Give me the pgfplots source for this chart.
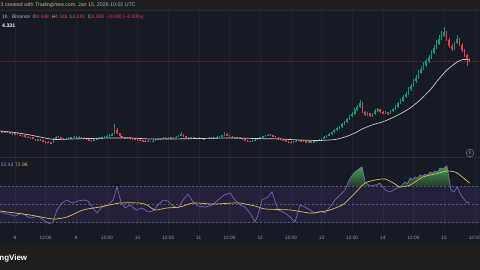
\documentclass[border=0pt]{standalone}
\usepackage{pgfplots}
\pgfplotsset{compat=1.18}
\usepackage{pgfplotstable}
\usepackage{fontspec}
\setmainfont{Liberation Sans}
\definecolor{bgc}{HTML}{161A25}
\definecolor{barc}{HTML}{1E1E1E}
\definecolor{barline}{HTML}{2C2C2C}
\definecolor{gridc}{HTML}{1F2331}
\definecolor{sepc}{HTML}{2A2E39}
\definecolor{upc}{HTML}{089981}
\definecolor{dnc}{HTML}{F23645}
\definecolor{smac}{HTML}{C9CCD6}
\definecolor{rsic}{HTML}{7E6BCB}
\definecolor{mac}{HTML}{D8BE58}
\definecolor{bandc}{HTML}{7E57C2}
\definecolor{dashc}{HTML}{5A5A70}
\definecolor{txtc}{HTML}{B2B5BE}
\definecolor{tickc}{HTML}{9598A1}
\definecolor{obtop}{HTML}{44A047}
\definecolor{obbot}{HTML}{243A2C}

\pgfplotstableread{
t o h l c
-5 68.5 69 67.5 68
-4 68 69.2 67.6 68.5
-3 68.5 69 67 67.5
-2 67.5 68 66.3 67
-1 67 67.5 65.4 66
0 66 67.2 65.5 66.5
1 66.5 67 64.5 65
2 65 65.5 63.5 64
3 64 65 63.6 64.5
4 64.5 65 62.4 63
5 63 63.5 61.5 62
6 62 63 61.6 62.5
7 62.5 63 60.5 61
8 61 61.4 59.4 60
9 60 61 59.6 60.5
10 60.5 61 59 59.5
11 59.5 60 58 58.5
12 58.5 59 57.4 58
13 58 58.6 57 57.5
14 57.5 58 56.2 57
15 57 62.2 56.8 61.5
16 61.5 63.8 61 63
17 63 63.6 62 62.5
18 62.5 63 61.5 62
19 62 62.4 60 60.5
20 60.5 61.6 60 61
21 61 62.5 60.6 62
22 62 63.2 61.6 62.5
23 62.5 63.6 62 63
24 63 63.5 62 62.5
25 62.5 63.6 62.1 63
26 63 63.4 61.8 62.2
27 62.2 62.6 60.8 61.2
28 61.2 61.6 60 60.5
29 60.5 61 59 59.5
30 59.5 60 58.4 59
31 59 61 58.6 60.5
32 60.5 62 60.1 61.5
33 61.5 62.6 61.2 62
34 62 63 61.6 62.5
35 62.5 64 62.2 63.5
36 63.5 64.8 63 64
37 64 65.5 63.5 64.5
38 64.5 67 64 66
39 66 76 65.5 69.5
40 69.5 71.5 66 66.5
41 66.5 67 62.8 63.5
42 63.5 64 62 62.5
43 62.5 63 61.4 62
44 62 63 61.5 62.5
45 62.5 63 61 61.5
46 61.5 62 60.4 61
47 61 61.5 60 60.5
48 60.5 61 59.5 60
49 60 60.5 59 59.5
50 59.5 60 58.4 59
51 59 59.5 58 58.5
52 58.5 59.5 58 59
53 59 59.4 57.6 58.2
54 58.2 59.5 57.8 59
55 59 60.5 58.6 60
56 60 61.5 59.6 61
57 61 62 60.6 61.5
58 61.5 62.5 61 62
59 62 62.5 61 61.6
60 61.6 62.8 61.2 62.2
61 62.2 62.6 61.5 62
62 62 63.2 61.6 62.6
63 62.6 63.6 62.2 63
64 63 64.6 62.6 64
65 64 67.5 63.6 65.5
66 65.5 66 63 63.5
67 63.5 64 62 62.5
68 62.5 63 61.5 62
69 62 62.9 61.6 62.4
70 62.4 62.8 61.3 61.8
71 61.8 62.2 61 61.5
72 61.5 62.5 61.1 62
73 62 62.4 61.1 61.6
74 61.6 62 60.7 61.2
75 61.2 62.2 60.8 61.8
76 61.8 62.7 61.4 62.2
77 62.2 62.6 61.5 62
78 62 63 61.6 62.6
79 62.6 63.5 62.2 63
80 63 64.2 62.6 63.6
81 63.6 65 63.2 64.5
82 64.5 68 64 66
83 66 66.5 64 64.5
84 64.5 65 62.7 63.2
85 63.2 63.6 62 62.6
86 62.6 63 61.7 62.2
87 62.2 63 61.8 62.5
88 62.5 62.9 61.3 61.8
89 61.8 62.2 60.3 60.8
90 60.8 61.2 59.5 60
91 60 60.4 58.4 59
92 59 59.4 57.8 58.4
93 58.4 59.5 58 59
94 59 60.7 58.6 60.2
95 60.2 62 59.8 61.5
96 61.5 63.3 61.1 62.8
97 62.8 64.3 62.4 63.8
98 63.8 65.2 63.3 64.6
99 64.6 66 64.1 65.2
100 65.2 65.8 64 64.6
101 64.6 65 63 63.5
102 63.5 64 61.8 62.3
103 62.3 62.8 60.7 61.2
104 61.2 61.6 59.6 60.2
105 60.2 60.7 59 59.5
106 59.5 60 58.2 58.8
107 58.8 59.2 57.4 58
108 58 58.5 56.8 57.4
109 57.4 59 57 58.5
110 58.5 59.8 58 59.2
111 59.2 60.3 58.8 59.8
112 59.8 60.3 58.5 59
113 59 59.5 57.8 58.3
114 58.3 58.8 57.5 58
115 58 59.1 57.6 58.6
116 58.6 59 57.6 58.1
117 58.1 58.9 57.7 58.4
118 58.4 59.7 58 59.2
119 59.2 60.8 58.8 60.2
120 60.2 62 59.8 61.5
121 61.5 63.5 61 62.8
122 62.8 65.2 62.3 64.5
123 64.5 66.6 64 65.8
124 65.8 68.3 65.2 67.5
125 67.5 70.5 67 69.5
126 69.5 72.5 69 71.5
127 71.5 74 70.6 73
128 73 76.8 72.4 75.5
129 75.5 79.3 74.8 78
130 78 82 77.3 80.5
131 80.5 85 79.8 83.5
132 83.5 87.5 82.8 86
133 86 91.5 85.2 89.5
134 89.5 95 88.6 93
135 93 100 92.2 96.5
136 96.5 97.5 87 88
137 88 89 83.5 84.5
138 84.5 87.5 83.6 86.5
139 86.5 87.2 83 84
140 84 86.5 83.2 85.5
141 85.5 90.5 85 89
142 89 92 88.2 90.5
143 90.5 91.2 87.2 88
144 88 88.6 85.6 86.5
145 86.5 88.5 85.8 87.5
146 87.5 88 85.2 86
147 86 89.5 85.5 88.5
148 88.5 91.8 87.8 90.5
149 90.5 94.5 89.8 93
150 93 98 92.3 96.5
151 96.5 100.8 95.6 99
152 99 104.6 98.2 103
153 103 108 102 106
154 106 112.5 105 110.5
155 110.5 116 109.4 114
156 114 120.5 113 118.5
157 118.5 124.5 117.2 122
158 122 129.5 121 127
159 127 133.5 126 131
160 131 137.5 129.5 134.5
161 134.5 141 133.2 138.5
162 138.5 145 137 142.5
163 142.5 150 141.3 147
164 147 155 145.5 152
165 152 159.5 150.8 156
166 156 165 154.5 161
167 161 168.5 159.5 164
168 164 173 162.5 167.5
169 167.5 169 158.5 160
170 160 161.5 152 154
171 154 155.5 149 151
172 151 158 150 156.5
173 156.5 165 155.5 161
174 161 162 153.5 155
175 155 156.5 148 149.5
176 149.5 150.5 142.8 145
177 145 146 133.5 140.5
178 140.5 142 137.5 139
}\candles

\begin{document}
\begin{tikzpicture}
\useasboundingbox (0bp,0bp) rectangle (480bp,270bp);
\clip (0bp,0bp) rectangle (480bp,270bp);
\fill[bgc] (0bp,0bp) rectangle (480bp,270bp);
\fill[barc] (0bp,259.5bp) rectangle (480bp,270bp);
\draw[barline, line width=0.6bp] (0bp,259.5bp) -- (480bp,259.5bp);
\fill[barc] (0bp,0bp) rectangle (480bp,25.5bp);
\draw[sepc, line width=0.7bp] (0bp,112.5bp) -- (480bp,112.5bp);

% ---------- price panel ----------
\begin{axis}[at={(0bp,113bp)}, anchor=south west, scale only axis,
  width=480bp, height=146bp,
  xmin=-5.873, xmax=182.05, ymin=43, ymax=189,
  axis line style={draw=none}, tick style={draw=none},
  xtick={0,12,...,180}, xticklabels={}, ytick=\empty,
  xmajorgrids, grid style={gridc, line width=0.5bp}]
% last price line
\addplot[dnc, opacity=0.45, line width=0.5bp, dash pattern=on 1bp off 1bp, forget plot]
  coordinates {(-5.873,139) (182.05,139)};
% wicks
\addplot[draw=none, mark=none, forget plot,
  restrict expr to domain={\thisrow{c}-\thisrow{o}}{0:1000},
  error bars/.cd, y dir=both, y explicit, error mark=none,
  error bar style={draw=upc, line width=0.45bp}]
  table[x=t, y expr={(\thisrow{h}+\thisrow{l})/2}, y error expr={(\thisrow{h}-\thisrow{l})/2}] {\candles};
\addplot[draw=none, mark=none, forget plot,
  restrict expr to domain={\thisrow{o}-\thisrow{c}}{0.001:1000},
  error bars/.cd, y dir=both, y explicit, error mark=none,
  error bar style={draw=dnc, line width=0.45bp}]
  table[x=t, y expr={(\thisrow{h}+\thisrow{l})/2}, y error expr={(\thisrow{h}-\thisrow{l})/2}] {\candles};
% bodies
\addplot[draw=none, mark=none, forget plot,
  restrict expr to domain={\thisrow{c}-\thisrow{o}}{0:1000},
  error bars/.cd, y dir=both, y explicit, error mark=none,
  error bar style={draw=upc, line width=1.6bp}]
  table[x=t, y expr={(\thisrow{o}+\thisrow{c})/2}, y error expr={max(abs(\thisrow{c}-\thisrow{o})/2,0.4)}] {\candles};
\addplot[draw=none, mark=none, forget plot,
  restrict expr to domain={\thisrow{o}-\thisrow{c}}{0.001:1000},
  error bars/.cd, y dir=both, y explicit, error mark=none,
  error bar style={draw=dnc, line width=1.6bp}]
  table[x=t, y expr={(\thisrow{o}+\thisrow{c})/2}, y error expr={max(abs(\thisrow{c}-\thisrow{o})/2,0.4)}] {\candles};
% moving average
\addplot[smac, line width=0.7bp, smooth, tension=0.4, mark=none] coordinates {
(-5.9,69) (0,67.5) (5.9,65) (11.7,62) (15.7,60.5) (21.5,61) (29.4,61.5) (37.2,62)
(45,62) (52.9,61) (60.7,61) (72.4,61.5) (84.2,62) (94,61.5) (103.8,61) (111.6,60)
(119.4,59.5) (125.3,60.5) (129.2,63) (133.1,67) (135.9,71) (139.8,75) (144.9,79)
(150.7,86) (154.7,92) (158.6,100) (162.5,110) (165.6,120) (169.1,130) (173.1,138)
(175.4,140.5) (178.1,140)};
\end{axis}

% ---------- RSI panel ----------
\begin{axis}[at={(0bp,39bp)}, anchor=south west, scale only axis,
  width=480bp, height=73bp,
  xmin=-5.873, xmax=182.05, ymin=20.9, ymax=100.5,
  axis line style={draw=none}, tick style={draw=none},
  xtick={0,12,...,180},
  xticklabels={8,12:00,9,12:00,10,12:00,11,12:00,12,12:00,13,12:00,14,12:00,15,12:00},
  xticklabel style={font=\fontsize{4.8}{5.5}\selectfont, text=tickc, anchor=center, yshift=-7bp},
  ytick=\empty,
  xmajorgrids, grid style={gridc, line width=0.5bp}]
\addplot[draw=none, fill=bandc, fill opacity=0.13, forget plot]
  coordinates {(-5.873,30) (182.05,30) (182.05,70) (-5.873,70)} -- cycle;
% overbought fill (RSI above 70)
\addplot[draw=none, top color=obtop, bottom color=obbot, forget plot] coordinates {
(129.87,70) (131.2,78.7) (133.1,85.2) (135.1,89.6) (135.9,90.7) (137.1,74.3) (139,70)
(141,71) (142.9,73.2) (143.74,70)} -- cycle;
\addplot[draw=none, top color=obtop, bottom color=obbot, forget plot] coordinates {
(151.11,70) (152.7,74.3) (153.7,72.5) (154.7,78.7) (155.6,77) (156.6,79.8) (157.6,78.5)
(158.6,81.9) (159.5,80.5) (160.5,82.9) (161.5,81.8) (162.5,85.2) (163.4,84) (164.4,86.3)
(165.4,85.5) (166.4,89.6) (167.5,88.5) (169.1,92.1) (170.43,70)} -- cycle;
\addplot[dashc, line width=0.5bp, dash pattern=on 2bp off 2bp, forget plot]
  coordinates {(-5.873,70) (182.05,70)};
\addplot[dashc, line width=0.5bp, dash pattern=on 2bp off 2bp, forget plot]
  coordinates {(-5.873,50) (182.05,50)};
\addplot[dashc, line width=0.5bp, dash pattern=on 2bp off 2bp, forget plot]
  coordinates {(-5.873,30) (182.05,30)};
\addplot[rsic, line width=0.6bp, mark=none] coordinates {
(-5.9,41.6) (-2.7,39.4) (0,37.2) (2.7,40.5) (5.9,35.1) (9,37.2) (11.7,31.8) (13.7,28.5)
(14.9,30.7) (16.4,43.8) (18.4,51.4) (20.4,54.7) (22.3,51.4) (24.7,53.6) (27,54.7)
(28.6,53.6) (30.5,46) (32.1,40.5) (34.1,47.1) (36.4,49.2) (38.4,54.7) (39.9,68.9)
(41.5,52.5) (43.1,46) (45,49.2) (47.4,43.8) (49.7,46) (52.1,41.6) (54,42.7) (56,49.2)
(58,54.7) (59.9,53.6) (61.9,48.1) (63.8,46) (65.8,54.7) (67.7,61.2) (69.7,52.5)
(71.7,48.1) (74.4,47) (77.1,49.2) (79.5,54.7) (81.8,60.1) (84.2,62.3) (86.1,54.7)
(88.1,49.2) (90,47.1) (92,40.5) (94,30.7) (95.1,38.3) (96.7,54.7) (99.1,58)
(100.6,63.4) (103,43.8) (105.7,40.5) (107.7,36.2) (109.6,30.7) (111.6,49.2)
(113.5,47.1) (115.5,43.8) (117.5,40.5) (119.4,42.7) (121.4,40.5) (123.3,47.1)
(125.3,54.7) (127.3,60.1) (129.2,65.6) (131.2,78.7) (133.1,85.2) (135.1,89.6)
(135.9,90.7) (137.1,74.3) (139,70) (141,71) (142.9,73.2) (144.9,65.6) (146.8,63.4)
(148.8,66.7) (150.7,68.9) (152.7,74.3) (153.7,72.5) (154.7,78.7) (155.6,77)
(156.6,79.8) (157.6,78.5) (158.6,81.9) (159.5,80.5) (160.5,82.9) (161.5,81.8)
(162.5,85.2) (163.4,84) (164.4,86.3) (165.4,85.5) (166.4,89.6) (167.5,88.5)
(169.1,92.1) (170.7,65.6) (171.9,63.4) (173.1,68.9) (174.2,62.3) (175.4,56.9)
(177,51.4) (178,52.4)};
\addplot[mac, line width=0.7bp, mark=none, smooth, tension=0.4] coordinates {
(-5.9,42.7) (5.9,38.3) (14.9,34) (20.4,36.2) (26.6,43.8) (33.3,47.1) (41.1,51.4)
(48.9,51.4) (51.7,49.2) (54.8,43.8) (59.5,46) (64.6,47.1) (69.7,51.4) (77.5,50.3)
(85.4,51.4) (88.1,51.4) (94,48.1) (97.9,44.9) (107.7,43.8) (115.5,40.5) (119.4,41.6)
(123.3,43.8) (127.3,48.1) (129.2,51.4) (133.1,62.3) (137,73.2) (141,76.5) (144.9,77.6)
(148.8,72.1) (150.7,68.9) (154.7,71) (159.7,79.8) (164.4,83) (169.1,86.3) (172.3,85.2)
(174.2,81.9) (178,73)};
\end{axis}

% ---------- texts ----------
\node[anchor=west, inner sep=0, text=txtc, font=\fontsize{5.3}{6}\selectfont]
  at (0.5bp,264.8bp) {3 created with TradingView.com, Jan 15, 2026 10:02 UTC};
\node[anchor=west, inner sep=0, font=\fontsize{5}{6}\selectfont]
  at (2bp,253bp) {\textcolor{txtc}{1h · Binance}\hspace{2.5bp}\textcolor{txtc}{O}\textcolor{dnc}{4.348}\hspace{2.5bp}\textcolor{txtc}{H}\textcolor{dnc}{4.348}\hspace{2.5bp}\textcolor{txtc}{L}\textcolor{dnc}{4.291}\hspace{2.5bp}\textcolor{txtc}{C}\textcolor{dnc}{4.309}\hspace{2.5bp}\textcolor{dnc}{−0.040 (−0.93\%)}};
\node[anchor=west, inner sep=0, text=white, font=\bfseries\fontsize{5.2}{6}\selectfont]
  at (2bp,244bp) {4.331};
\node[anchor=west, inner sep=0, text=rsic!80!white, font=\fontsize{5}{6}\selectfont]
  at (0.8bp,105bp) {52.43};
\node[anchor=west, inner sep=0, text=mac, font=\fontsize{5}{6}\selectfont]
  at (15bp,105bp) {72.96};
\draw[txtc!60!bgc, line width=0.5bp] (470bp,117bp) circle (3.8bp);
\node[inner sep=0, text=txtc!80!bgc, font=\fontsize{4.2}{5}\selectfont] at (470bp,117bp) {\$};
\node[anchor=base west, inner sep=0, text=white, font=\bfseries\fontsize{8}{9}\selectfont]
  at (-0.8bp,10bp) {ngView};
\end{tikzpicture}
\end{document}
